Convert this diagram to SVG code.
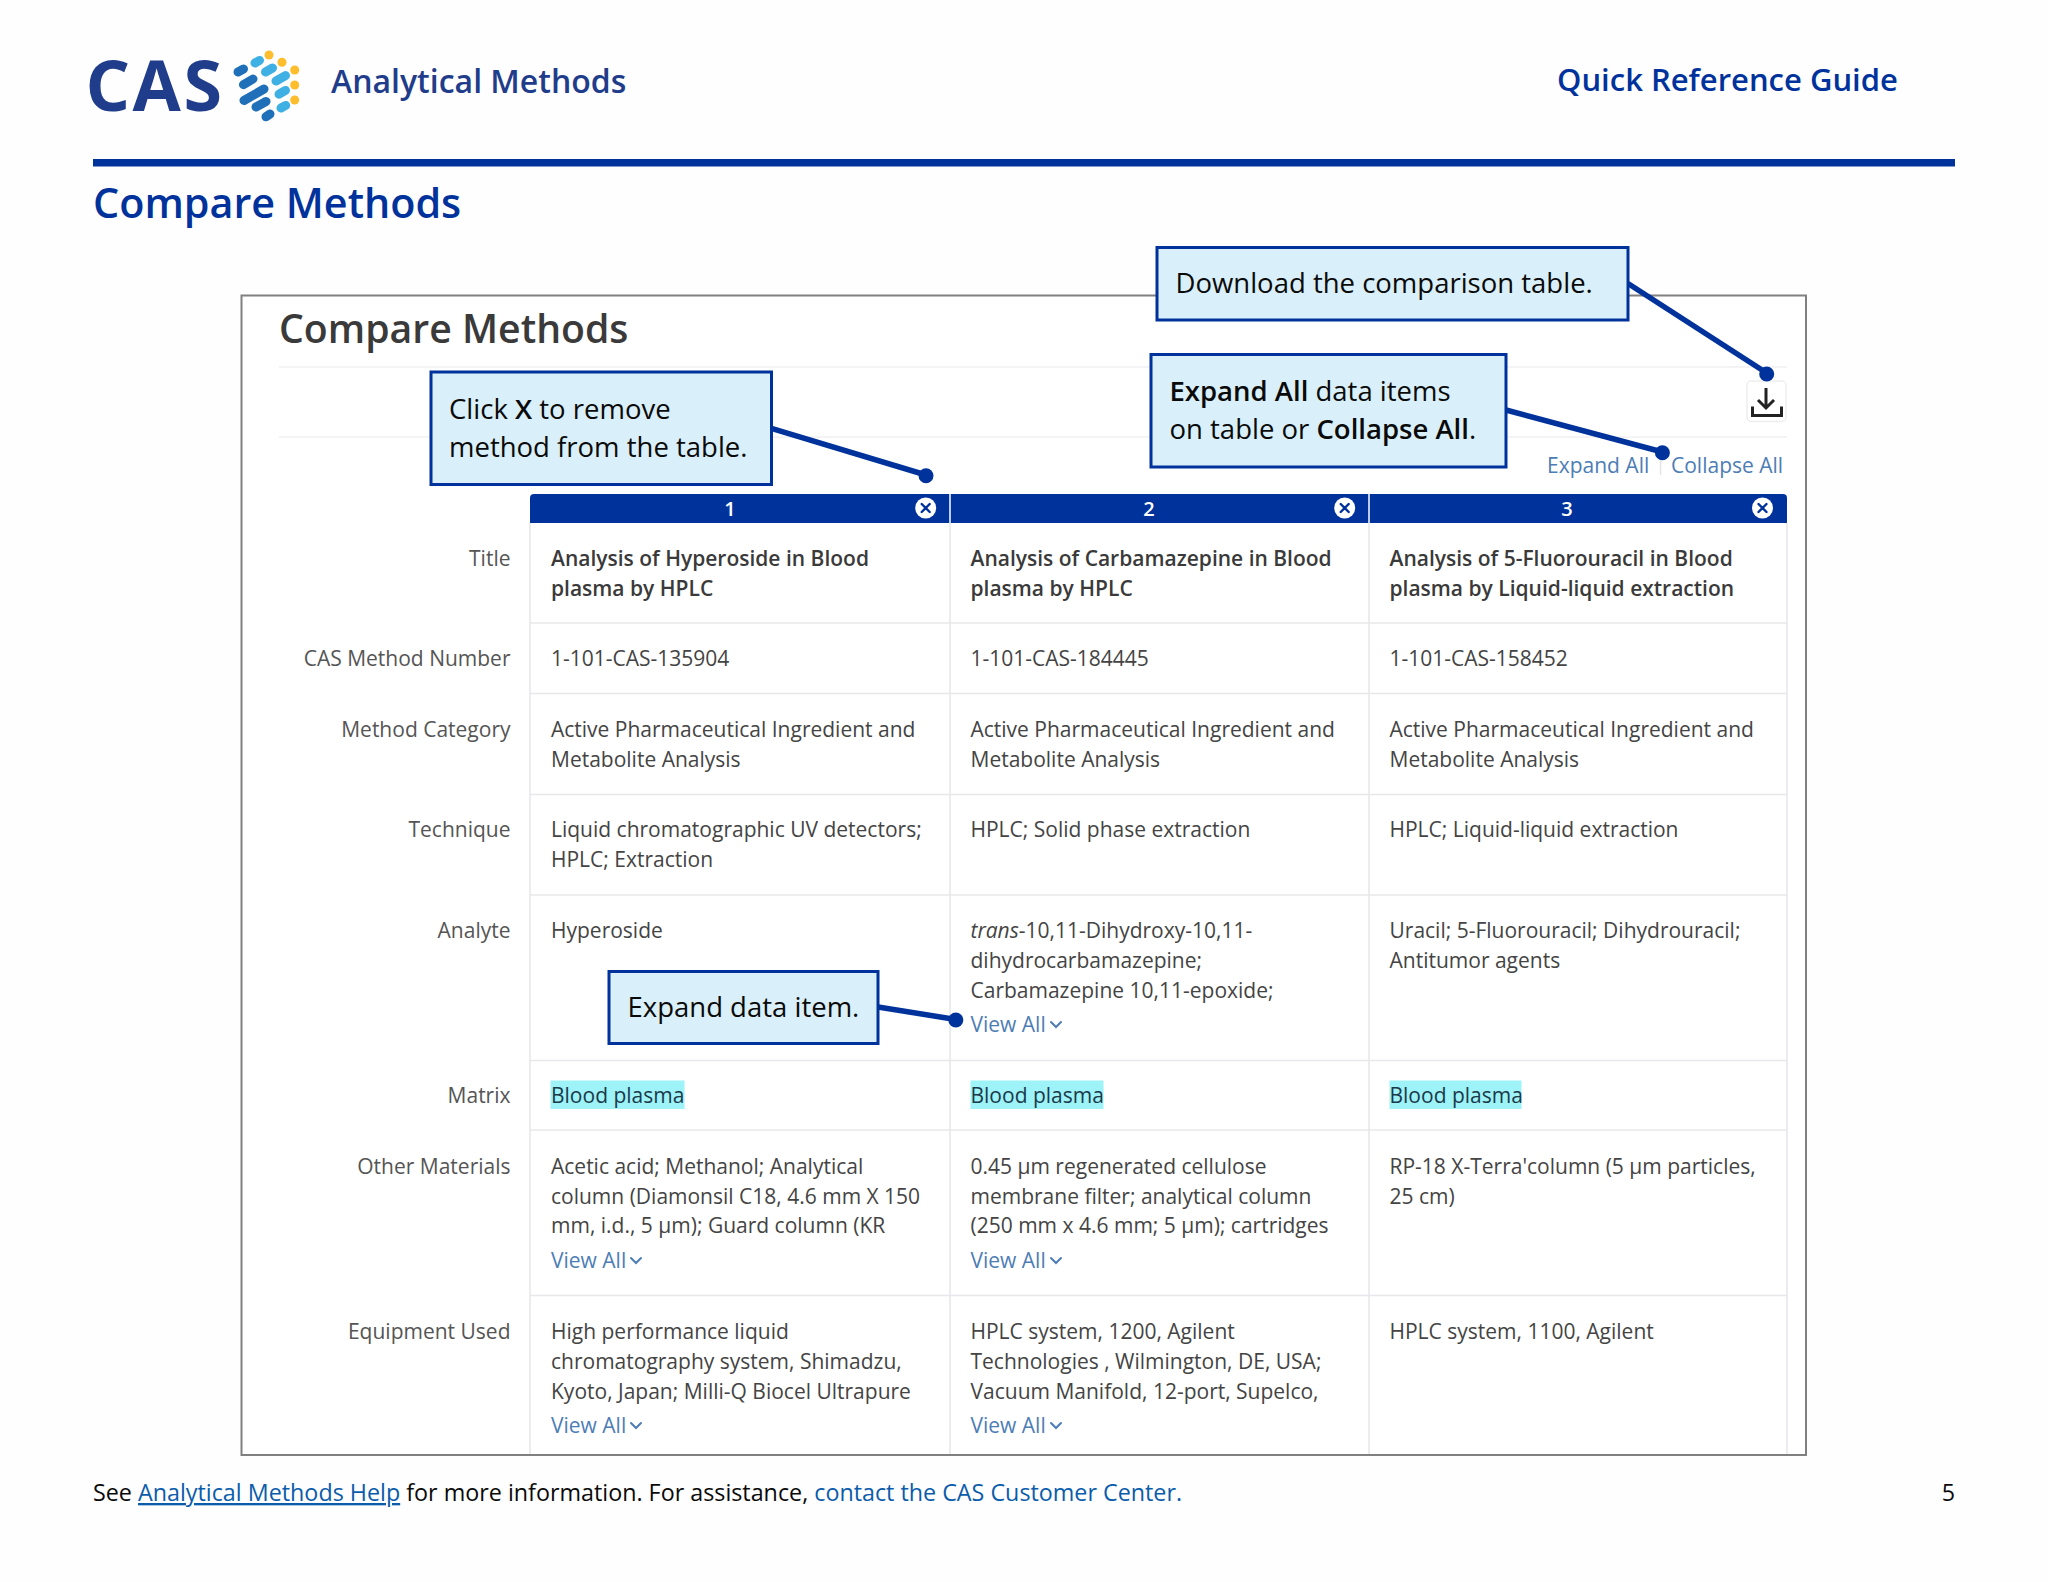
<svg xmlns="http://www.w3.org/2000/svg" width="2048" height="1582" viewBox="0 0 2048 1582">
<style>
text{font-family:"Open Sans","Noto Sans",sans-serif;}
.bg{fill:#fefefe}
.logo{fill:#1f3d8a}
.c{fill:#d9eff9;stroke:#00329c;stroke-width:3}
.ct{font-size:27.5px;fill:#0a0a0a}
.b{font-weight:600}
.conn line{stroke:#00329c;stroke-width:5.5}
.conn circle{fill:#00329c}
.h{fill:#00329c}
.n{font-size:20px;font-weight:600;fill:#fff;text-anchor:middle}
.x{fill:#fff}
.xm{stroke:#00329c;stroke-width:2.4;stroke-linecap:round}
.g{stroke:#e8e8ec;stroke-width:1.6}
.sep{stroke:#f1f1f3;stroke-width:1.6}
.l{font-size:21px;fill:#555;text-anchor:end}
.t{font-size:21px;fill:#444}
.s{font-weight:600;fill:#3a3a3a}
.v{font-size:21px;fill:#4d7db5}
.hl{fill:#9ef3f8}
.m{fill:#1a3a4a}
.chev{fill:none;stroke:#4d7db5;stroke-width:2;stroke-linecap:round}
.d{stroke-width:9;stroke-linecap:round;fill:none}
.f{font-size:23.3px;fill:#0a0a0a}
.a{fill:#0b5cab}
</style>
<rect class="bg" width="2048" height="1582"/>
<g id="logo">
<text class="logo" x="85.500" y="110.500" font-size="70" font-weight="700" letter-spacing="2.500">CAS</text>
<g fill="#fdbd2c"><circle cx="269" cy="55" r="4.500"/><circle cx="282" cy="62.300" r="4.500"/><circle cx="294.700" cy="70" r="4.500"/><circle cx="294.700" cy="85" r="4.500"/><circle cx="294.700" cy="100" r="4.500"/></g>
<g class="d" stroke="#3fb0e3"><path d="M255 63L259.500 60.400"/><path d="M265.500 72L272.500 68"/><path d="M276 81L285.500 75.600"/><path d="M279 94.200L285.500 90.400"/><path d="M281 108L285.700 105.400"/></g>
<g class="d" stroke="#1f70b8"><path d="M238 72L243.500 69"/><path d="M243.500 84.700L253 79"/><path d="M244 100.500L264 89"/><path d="M256 107L266 101.500"/><path d="M266 116.800L270 114"/></g>
<text class="logo" x="331" y="93" font-size="32" font-weight="600">Analytical Methods</text>
</g>
<text x="1557" y="91" font-size="31" font-weight="600" fill="#00329c">Quick Reference Guide</text>
<rect x="93" y="159" width="1862" height="7.500" fill="#00329c"/>
<text x="93" y="217.500" font-size="41.300px" font-weight="600" fill="#00329c">Compare Methods</text>

<g id="panel">
<rect x="241.500" y="295.500" width="1564.500" height="1159.500" fill="#fff" stroke="#808080" stroke-width="2"/>
<text x="279" y="342.500" font-size="39.200px" font-weight="600" fill="#3a3a3a">Compare Methods</text>
<line class="sep" x1="279" y1="367" x2="1787" y2="367"/>
<line class="sep" x1="279" y1="437" x2="1787" y2="437"/>
</g>
<g id="download-button">
<rect x="1747" y="381" width="39" height="40.500" rx="4" fill="#fff" stroke="#eeeef0" stroke-width="1.500"/>
<path d="M1766 388V407M1758 400L1766 408L1774 400" fill="none" stroke="#222" stroke-width="3"/>
<path d="M1752.500 406.500V415.500H1781.500V406.500" fill="none" stroke="#222" stroke-width="3"/>
</g>
<g id="expand-controls">
<text class="v" x="1547" y="473">Expand All</text>
<line x1="1660.500" y1="460" x2="1660.500" y2="475" stroke="#e4e4e8" stroke-width="1.500"/>
<text class="v" x="1671" y="473">Collapse All</text>
</g>
<g id="table-header">
<path class="h" d="M530 523V498a4 4 0 0 1 4-4H1783a4 4 0 0 1 4 4V523Z"/>
<line x1="950" y1="494" x2="950" y2="523" stroke="#fff" stroke-width="1.500"/>
<line x1="1369" y1="494" x2="1369" y2="523" stroke="#fff" stroke-width="1.500"/>
<text class="n" x="730" y="516">1</text><text class="n" x="1149" y="516">2</text><text class="n" x="1567" y="516">3</text>
<circle class="x" cx="925.700" cy="508" r="10.500"/><path class="xm" d="M921.700 504L929.700 512M929.700 504L921.700 512"/>
<circle class="x" cx="1344.700" cy="508" r="10.500"/><path class="xm" d="M1340.700 504L1348.700 512M1348.700 504L1340.700 512"/>
<circle class="x" cx="1762.500" cy="508" r="10.500"/><path class="xm" d="M1758.500 504L1766.500 512M1766.500 504L1758.500 512"/>
</g>
<g id="table-grid">
<line class="g" x1="530" y1="523" x2="530" y2="1454"/>
<line class="g" x1="950" y1="523" x2="950" y2="1454"/>
<line class="g" x1="1369" y1="523" x2="1369" y2="1454"/>
<line class="g" x1="1787" y1="523" x2="1787" y2="1454"/>
<line class="g" x1="530" y1="623" x2="1787" y2="623"/>
<line class="g" x1="530" y1="693.500" x2="1787" y2="693.500"/>
<line class="g" x1="530" y1="794.500" x2="1787" y2="794.500"/>
<line class="g" x1="530" y1="895" x2="1787" y2="895"/>
<line class="g" x1="530" y1="1060.500" x2="1787" y2="1060.500"/>
<line class="g" x1="530" y1="1130" x2="1787" y2="1130"/>
<line class="g" x1="530" y1="1295.500" x2="1787" y2="1295.500"/>
</g>
<g id="row-labels">
<text class="l" x="510.500" y="566">Title</text>
<text class="l" x="510.500" y="666">CAS Method Number</text>
<text class="l" x="510.500" y="737">Method Category</text>
<text class="l" x="510.500" y="837">Technique</text>
<text class="l" x="510.500" y="937.500">Analyte</text>
<text class="l" x="510.500" y="1103">Matrix</text>
<text class="l" x="510.500" y="1174">Other Materials</text>
<text class="l" x="510.500" y="1338.500">Equipment Used</text>
</g>
<g id="column-1">
<text class="t s" x="551" y="566">Analysis of Hyperoside in Blood</text><text class="t s" x="551" y="596">plasma by HPLC</text>
<text class="t" x="551" y="666">1-101-CAS-135904</text>
<text class="t" x="551" y="737">Active Pharmaceutical Ingredient and</text><text class="t" x="551" y="767">Metabolite Analysis</text>
<text class="t" x="551" y="837">Liquid chromatographic UV detectors;</text><text class="t" x="551" y="867">HPLC; Extraction</text>
<text class="t" x="551" y="937.500">Hyperoside</text>
<rect class="hl" x="550.500" y="1080.500" width="134" height="28.500"/><text class="t m" x="551" y="1103">Blood plasma</text>
<text class="t" x="551" y="1174">Acetic acid; Methanol; Analytical</text><text class="t" x="551" y="1204">column (Diamonsil C18, 4.6 mm X 150</text><text class="t" x="551" y="1233">mm, i.d., 5 µm); Guard column (KR</text>
<text class="v" x="551" y="1268">View All</text><path class="chev" d="M631 1258L636 1263L641 1258"/>
<text class="t" x="551" y="1338.500">High performance liquid</text><text class="t" x="551" y="1368.500">chromatography system, Shimadzu,</text><text class="t" x="551" y="1398.500">Kyoto, Japan; Milli-Q Biocel Ultrapure</text>
<text class="v" x="551" y="1433">View All</text><path class="chev" d="M631 1423L636 1428L641 1423"/>
</g>
<g id="column-2">
<text class="t s" x="970.500" y="566">Analysis of Carbamazepine in Blood</text><text class="t s" x="970.500" y="596">plasma by HPLC</text>
<text class="t" x="970.500" y="666">1-101-CAS-184445</text>
<text class="t" x="970.500" y="737">Active Pharmaceutical Ingredient and</text><text class="t" x="970.500" y="767">Metabolite Analysis</text>
<text class="t" x="970.500" y="837">HPLC; Solid phase extraction</text>
<text class="t" x="970.500" y="937.500"><tspan font-style="italic">trans</tspan>-10,11-Dihydroxy-10,11-</text><text class="t" x="970.500" y="968">dihydrocarbamazepine;</text><text class="t" x="970.500" y="997.500">Carbamazepine 10,11-epoxide;</text>
<text class="v" x="970.500" y="1032">View All</text><path class="chev" d="M1051 1022L1056 1027L1061 1022"/>
<rect class="hl" x="970.500" y="1080.500" width="133" height="28.500"/><text class="t m" x="970.500" y="1103">Blood plasma</text>
<text class="t" x="970.500" y="1174">0.45 µm regenerated cellulose</text><text class="t" x="970.500" y="1204">membrane filter; analytical column</text><text class="t" x="970.500" y="1233">(250 mm x 4.6 mm; 5 µm); cartridges</text>
<text class="v" x="970.500" y="1268">View All</text><path class="chev" d="M1051 1258L1056 1263L1061 1258"/>
<text class="t" x="970.500" y="1338.500">HPLC system, 1200, Agilent</text><text class="t" x="970.500" y="1368.500">Technologies , Wilmington, DE, USA;</text><text class="t" x="970.500" y="1398.500">Vacuum Manifold, 12-port, Supelco,</text>
<text class="v" x="970.500" y="1433">View All</text><path class="chev" d="M1051 1423L1056 1428L1061 1423"/>
</g>
<g id="column-3">
<text class="t s" x="1389.500" y="566">Analysis of 5-Fluorouracil in Blood</text><text class="t s" x="1389.500" y="596">plasma by Liquid-liquid extraction</text>
<text class="t" x="1389.500" y="666">1-101-CAS-158452</text>
<text class="t" x="1389.500" y="737">Active Pharmaceutical Ingredient and</text><text class="t" x="1389.500" y="767">Metabolite Analysis</text>
<text class="t" x="1389.500" y="837">HPLC; Liquid-liquid extraction</text>
<text class="t" x="1389.500" y="937.500">Uracil; 5-Fluorouracil; Dihydrouracil;</text><text class="t" x="1389.500" y="968">Antitumor agents</text>
<rect class="hl" x="1389.500" y="1080.500" width="132" height="28.500"/><text class="t m" x="1389.500" y="1103">Blood plasma</text>
<text class="t" x="1389.500" y="1174">RP-18 X-Terra'column (5 µm particles,</text><text class="t" x="1389.500" y="1204">25 cm)</text>
<text class="t" x="1389.500" y="1338.500">HPLC system, 1100, Agilent</text>
</g>
<g id="connectors" class="conn">
<line x1="1628" y1="283.500" x2="1766.700" y2="373"/><circle cx="1766.700" cy="374" r="7.500"/>
<line x1="1506" y1="410" x2="1662.400" y2="452"/><circle cx="1662.400" cy="452.700" r="7.500"/>
<line x1="771.400" y1="428.300" x2="926" y2="475"/><circle cx="926" cy="475.700" r="7.500"/>
<line x1="878" y1="1007" x2="955.800" y2="1019.500"/><circle cx="955.800" cy="1020" r="7.500"/>
</g>
<g id="callout-download">
<rect class="c" x="1157" y="247.500" width="471" height="72.500"/>
<text class="ct" x="1175.500" y="293">Download the comparison table.</text>
</g>
<g id="callout-expand-all">
<rect class="c" x="1151" y="354.500" width="355" height="112.500"/>
<text class="ct" x="1169.500" y="401"><tspan class="b">Expand All</tspan> data items</text>
<text class="ct" x="1169.500" y="438.500">on table or <tspan class="b">Collapse All</tspan>.</text>
</g>
<g id="callout-remove">
<rect class="c" x="431" y="372" width="340.500" height="112.500"/>
<text class="ct" x="449" y="419">Click <tspan class="b">X</tspan> to remove</text>
<text class="ct" x="449" y="456.500">method from the table.</text>
</g>
<g id="callout-expand-item">
<rect class="c" x="609" y="971.500" width="269" height="72"/>
<text class="ct" x="627.500" y="1017">Expand data item.</text>
</g>
<g id="footer">
<text class="f" x="93" y="1501">See <tspan class="a" text-decoration="underline">Analytical Methods Help</tspan> for more information. For assistance, <tspan class="a">contact the CAS Customer Center.</tspan></text>
<text class="f" x="1955" y="1501" text-anchor="end">5</text>
</g>
</svg>
